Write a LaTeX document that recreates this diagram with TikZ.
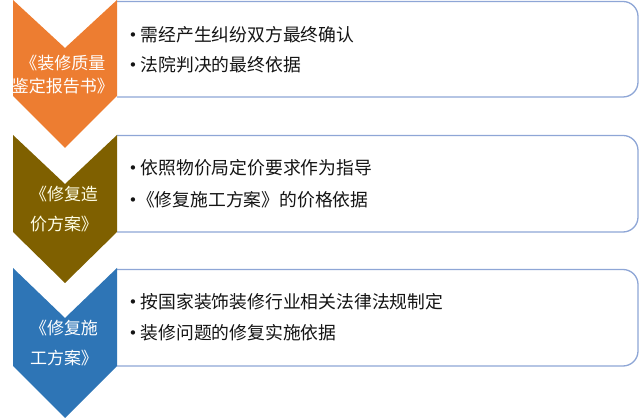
\documentclass[tikz,border=0pt]{standalone}
\usepackage{fontspec}
\setmainfont{Noto Sans CJK SC}
\newfontfamily\bulfont{DejaVu Sans}
\definecolor{corange}{HTML}{ED7D31}
\definecolor{cbrown}{HTML}{7F6000}
\definecolor{cblue}{HTML}{2E75B6}
\definecolor{cframe}{HTML}{8EA6D6}
\definecolor{ctext}{HTML}{141414}
\tikzset{
  framebox/.style={draw=cframe, line width=1.3pt, rounded corners=15pt, fill=white},
  chevtxt/.style={inner sep=0pt, align=center, text=white, font=\fontsize{17}{30}\selectfont},
  itemtxt/.style={inner sep=0pt, anchor=west, text=ctext, font=\fontsize{17.8}{20}\selectfont},
  bul/.style={inner sep=0pt, text=ctext, font=\bulfont\fontsize{15}{16}\selectfont},
}
\begin{document}
\begin{tikzpicture}[x=1pt,y=-1pt]
\useasboundingbox (0,0) rectangle (640,419);
% row 1
\draw[framebox] (117,1.5) -- (638,1.5) -- (638,97) -- (117,97);
\fill[corange] (13,0) -- (65,48) -- (117,0) -- (117,96) -- (65,148) -- (13,96) -- cycle;
\node[chevtxt, font=\fontsize{17}{23}\selectfont] (c1) at (63,75) {《装修质量\\鉴定报告书》};
\node[bul] (b11) at (133,37) {•};
\node[itemtxt] (t11) at (140.5,35) {需经产生纠纷双方最终确认};
\node[bul] (b12) at (133,67) {•};
\node[itemtxt] (t12) at (140.5,65) {法院判决的最终依据};
% row 2
\draw[framebox] (117,135.5) -- (638,135.5) -- (638,232) -- (117,232);
\fill[cbrown] (13,135) -- (65,184) -- (117,135) -- (117,232) -- (65,283) -- (13,232) -- cycle;
\node[chevtxt, text=white!90!yellow] (c2) at (64,209) {《修复造\\价方案》};
\node[bul] (b21) at (133,170) {•};
\node[itemtxt] (t21) at (140.5,168) {依照物价局定价要求作为指导};
\node[bul] (b22) at (133,202) {•};
\node[itemtxt] (t22) at (140.5,200) {\hspace*{-0.2em}《修复施工方案》的价格依据};
% row 3
\draw[framebox] (117,269.5) -- (638,269.5) -- (638,366) -- (117,366);
\fill[cblue] (13,268) -- (65,318) -- (117,268) -- (117,366) -- (65,418) -- (13,366) -- cycle;
\node[chevtxt] (c3) at (64,343) {《修复施\\工方案》};
\node[bul] (b31) at (133,304) {•};
\node[itemtxt] (t31) at (140.5,302) {按国家装饰装修行业相关法律法规制定};
\node[bul] (b32) at (133,335) {•};
\node[itemtxt] (t32) at (140.5,333) {装修问题的修复实施依据};
\end{tikzpicture}
\end{document}
